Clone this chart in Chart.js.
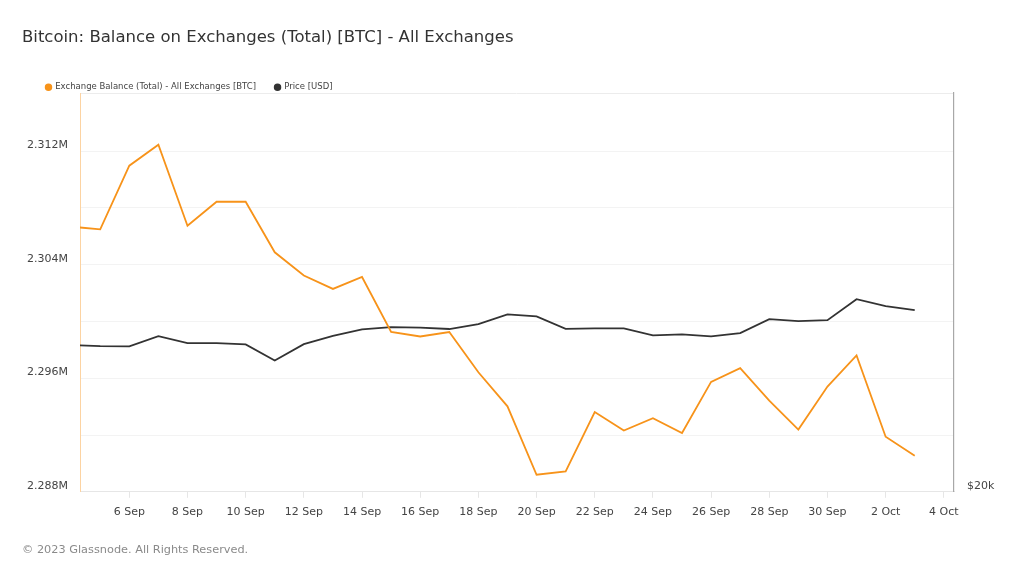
<!DOCTYPE html>
<html>
<head>
<meta charset="utf-8">
<script src="https://cdn.jsdelivr.net/npm/chart.js@4/dist/chart.umd.min.js"></script>
<style>
  html, body { margin: 0; padding: 0; background: #fff; }
  #wrap { position: relative; width: 1024px; height: 576px; overflow: hidden; }
  #chart { position: absolute; left: 0; top: 0; }
  .title { position: absolute; left: 22px; top: 27px; font: 16.5px/20px "DejaVu Sans", sans-serif; color: #333; white-space: nowrap; }
  .footer { position: absolute; left: 22px; top: 543px; font: 11.3px/14px "DejaVu Sans", sans-serif; color: #8a8a8a; white-space: nowrap; }
</style>
</head>
<body>
<div id="wrap">
  <canvas id="chart" width="1024" height="576"></canvas>
  <div class="title">Bitcoin: Balance on Exchanges (Total) [BTC] - All Exchanges</div>
  <div class="footer">© 2023 Glassnode. All Rights Reserved.</div>
</div>
<script>
const dates = [
  "2023-09-04", "2023-09-05", "2023-09-06", "2023-09-07", "2023-09-08", "2023-09-09",
  "2023-09-10", "2023-09-11", "2023-09-12", "2023-09-13", "2023-09-14", "2023-09-15",
  "2023-09-16", "2023-09-17", "2023-09-18", "2023-09-19", "2023-09-20", "2023-09-21",
  "2023-09-22", "2023-09-23", "2023-09-24", "2023-09-25", "2023-09-26", "2023-09-27",
  "2023-09-28", "2023-09-29", "2023-09-30", "2023-10-01", "2023-10-02", "2023-10-03"
]
const balanceBTC = [
  2306670, 2306490, 2310970, 2312450, 2306740, 2308430,
  2308430, 2304870, 2303230, 2302290, 2303130, 2299260,
  2298940, 2299250, 2296420, 2294020, 2289200, 2289440,
  2293620, 2292310, 2293180, 2292140, 2295740, 2296710,
  2294420, 2292380, 2295410, 2297600, 2291880, 2290540
]
const priceUSD = [
  25810, 25760, 25750, 26210, 25900, 25900,
  25840, 25130, 25850, 26230, 26520, 26630,
  26600, 26540, 26770, 27220, 27130, 26550,
  26570, 26570, 26250, 26290, 26200, 26350,
  27000, 26910, 26950, 27950, 27620, 27430
]
const xTickDates = [
  "2023-09-06", "2023-09-08", "2023-09-10", "2023-09-12", "2023-09-14", "2023-09-16", "2023-09-18", "2023-09-20",
  "2023-09-22", "2023-09-24", "2023-09-26", "2023-09-28", "2023-09-30", "2023-10-02", "2023-10-04"
]
const xTickLabels = [
  "6 Sep", "8 Sep", "10 Sep", "12 Sep", "14 Sep", "16 Sep", "18 Sep", "20 Sep",
  "22 Sep", "24 Sep", "26 Sep", "28 Sep", "30 Sep", "2 Oct", "4 Oct"
]
const balanceTicks = [2288000, 2292000, 2296000, 2300000, 2304000, 2308000, 2312000]
const balanceTickLabels = ["2.288M", "", "2.296M", "", "2.304M", "", "2.312M"]
const priceTicks = [20000, 40000]
const priceTickLabels = ["$20k", ""]

// day number counted from 31 Aug (so 1 Sep = 1, 1 Oct = 31)
const dayOf = s => (Date.parse(s) - Date.parse("2023-08-31")) / 86400000
const xDays = dates.map(dayOf)
const xTickDays = xTickDates.map(dayOf)

const font = { family: "DejaVu Sans", size: 11 }

new Chart(document.getElementById("chart"), {
  type: "line",
  data: {
    datasets: [
      {
        label: "Exchange Balance (Total) - All Exchanges [BTC]",
        data: xDays.map((x, i) => ({ x, y: balanceBTC[i] })),
        borderColor: "#f7931a",
        backgroundColor: "#f7931a",
        borderWidth: 1.8,
        pointRadius: 0,
        tension: 0,
        yAxisID: "y"
      },
      {
        label: "Price [USD]",
        data: xDays.map((x, i) => ({ x, y: priceUSD[i] })),
        borderColor: "#333333",
        backgroundColor: "#333333",
        borderWidth: 1.8,
        pointRadius: 0,
        tension: 0,
        yAxisID: "y1"
      }
    ]
  },
  options: {
    responsive: false,
    animation: false,
    layout: { padding: { left: 27, right: 26, top: 64, bottom: 49 } },
    plugins: {
      tooltip: { enabled: false },
      legend: {
        position: "top",
        align: "start",
        maxHeight: 29,
        labels: {
          usePointStyle: true,
          pointStyle: "circle",
          boxWidth: 5,
          boxHeight: 4,
          padding: 19,
          color: "#444",
          font: { family: "DejaVu Sans", size: 8.5 }
        }
      }
    },
    scales: {
      x: {
        type: "linear",
        min: 4.305,
        max: 34.35,
        afterBuildTicks: axis => { axis.ticks = xTickDays.map(v => ({ value: v })) },
        ticks: {
          callback: (v, i) => xTickLabels[i],
          autoSkip: false,
          maxRotation: 0,
          padding: 8,
          color: "#444",
          font
        },
        grid: { drawOnChartArea: false, tickLength: 6, color: "#e6e6e6" },
        border: { color: "#e6e6e6" }
      },
      y: {
        position: "left",
        min: 2288000,
        max: 2316090,
        afterBuildTicks: axis => { axis.ticks = balanceTicks.map(v => ({ value: v })) },
        afterFit: axis => { axis.width = 53 },
        ticks: {
          callback: (v, i) => balanceTickLabels[i],
          labelOffset: -6,
          padding: 12,
          color: "#444",
          font
        },
        grid: { color: "#f3f3f3", drawTicks: false },
        border: { color: "#fcd3a2" }
      },
      y1: {
        type: "logarithmic",
        position: "right",
        min: 20000,
        max: 40000,
        afterBuildTicks: axis => { axis.ticks = priceTicks.map(v => ({ value: v })) },
        afterFit: axis => { axis.width = 44 },
        ticks: {
          callback: (v, i) => priceTickLabels[i],
          labelOffset: -6,
          padding: 13,
          color: "#444",
          font
        },
        grid: { color: "#ececec", drawTicks: false },
        border: { color: "#a8a8a8", width: 1.2 }
      }
    }
  }
})
</script>
</body>
</html>
